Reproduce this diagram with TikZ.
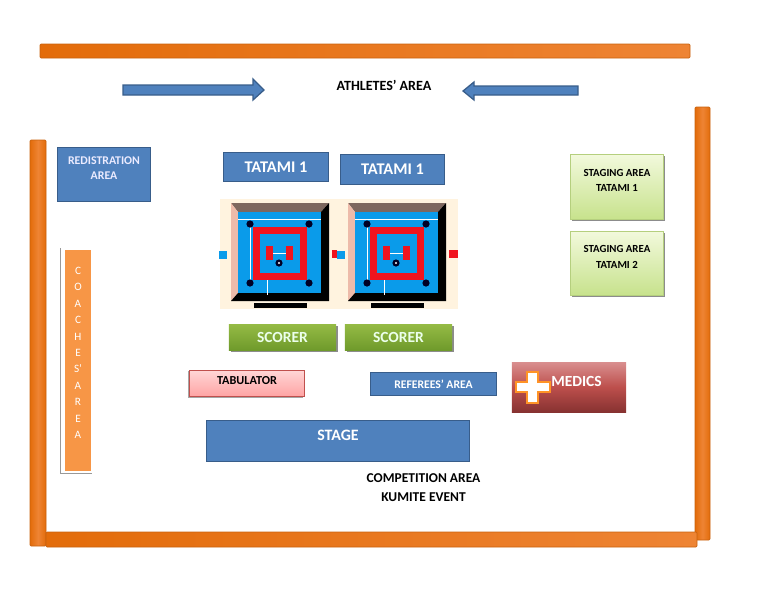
\documentclass[tikz,border=0pt]{standalone}
\usepackage{fontspec}
\setmainfont{Carlito}
\usetikzlibrary{shadows}
\definecolor{barorange}{HTML}{E36C0A}
\definecolor{barlight}{HTML}{EE8434}
\definecolor{bardark}{HTML}{C8620F}
\definecolor{boxblue}{HTML}{4F81BD}
\definecolor{boxedge}{HTML}{385D8A}
\definecolor{matblue}{HTML}{0A9BEA}
\definecolor{matred}{HTML}{F0141E}
\definecolor{scorertop}{HTML}{95BB45}
\definecolor{scorerlow}{HTML}{6F9A2B}
\definecolor{stagingtop}{HTML}{F2F9DC}
\definecolor{stagingedge}{HTML}{B5CF7E}
\definecolor{stagingdark}{HTML}{C7E28C}
\definecolor{medictop}{HTML}{D98F8F}
\definecolor{medicmid}{HTML}{BD4F4C}
\definecolor{medicdark}{HTML}{873231}
\definecolor{tabtop}{HTML}{FFD6D6}
\definecolor{tablow}{HTML}{FFA3A3}
\definecolor{tabedge}{HTML}{C0504D}
\definecolor{coachorange}{HTML}{F79646}
\definecolor{matcream}{HTML}{FFF3DF}
\definecolor{matgrey}{HTML}{7D675F}
\definecolor{matpink}{HTML}{EDBBAA}
\tikzset{
  bar/.style={draw=bardark, line width=0.5pt, rounded corners=0.8pt},
  areabox/.style={draw=boxedge, line width=0.9pt, fill=boxblue, inner sep=0pt, text=white},
  softshadow/.style={general shadow={fill=black!45, shadow xshift=1.2pt, shadow yshift=-1.2pt}},
  scorerbox/.style={inner sep=0pt, softshadow, top color=scorertop, bottom color=scorerlow, text=white!92!green, font=\fontsize{11}{12}\selectfont\bfseries},
  stagingbox/.style={draw=stagingedge, line width=0.8pt, inner sep=0pt, softshadow, top color=stagingtop, bottom color=stagingdark},
  boxtext/.style={align=center, inner sep=0pt, font=\fontsize{7.7}{11.2}\selectfont\bfseries},
  bararrow/.style={draw=boxedge, line width=0.9pt, fill=boxblue},
  mat/.pic={
    \fill [matgrey] (0,0) -- (98,0) -- (90,9) -- (7,9) -- cycle;
    \fill [matpink] (0,0) -- (7,9) -- (7,90) -- (0,98) -- cycle;
    \fill [black] (98,0) -- (98,98) -- (0,98) -- (7,90) -- (90,90) -- (90,9) -- cycle;
    \fill [matblue] (7,9) rectangle (90,90);
    \draw [white, line width=0.5pt] (7,16) -- (90,16);
    \fill [matred] (22,24) rectangle (76,77);
    \fill [matblue] (29,31) rectangle (69,70);
    \fill [matred] (35,43) rectangle (42,57);
    \fill [matred] (55,43) rectangle (62,57);
    \draw [white, line width=0.7pt] (19,21) -- (19,80);
    \draw [white, line width=0.7pt] (36,77) -- (36,92);
    \draw [white, line width=0.4pt] (42,50) -- (55,50);
    \foreach \cx/\cy in {19/21, 78/21, 19/80, 78/80} {
      \fill [black!85!blue] (\cx,\cy) circle [radius=3.6];
    }
    \fill [black!85!blue] (48,60) circle [radius=3.6];
    \fill [white] (48,60) circle [radius=1.2];
    \fill [black] (23,100) rectangle (76,105);
  }
}
\begin{document}
\begin{tikzpicture}[x=0.025cm, y=-0.025cm]
    \useasboundingbox (0,0) rectangle (768,594);

    \draw [bar, left color=barorange, right color=barlight] (40,44) rectangle (690,58);
    \draw [bar, left color=barorange, right color=barorange, middle color=barlight] (695,107) rectangle (710,540);
    \draw [bar, left color=barorange, right color=barorange, middle color=barlight] (30,140) rectangle (46,546);
    \draw [bar, left color=barorange, right color=barlight] (46,532) rectangle (697,547);

    \draw [bararrow] (123,85) -- (253,85) -- (253,79) -- (264,90) -- (253,100) -- (253,95) -- (123,95) -- cycle;
    \draw [bararrow] (578,86) -- (474,86) -- (474,82) -- (463,91) -- (474,100) -- (474,95) -- (578,95) -- cycle;
    \node [font=\fontsize{10}{12}\selectfont\bfseries] (athletes) at (384,85) {ATHLETES’ AREA};

    \node [areabox, minimum width=2.32cm, minimum height=1.35cm] (registration) at (104,174.5) {};
    \node [boxtext, text=white!92!blue, font=\fontsize{8.4}{11.2}\selectfont\bfseries] (registrationtext) at (104,168) {REDISTRATION\\AREA};

    \node [areabox, minimum width=2.62cm, minimum height=0.72cm, font=\fontsize{11.6}{13}\selectfont\bfseries] (tatamione) at (276,167) {TATAMI 1};
    \node [areabox, minimum width=2.6cm, minimum height=0.75cm, font=\fontsize{11.6}{13}\selectfont\bfseries] (tatamitwo) at (392.5,169.5) {TATAMI 1};

    \fill [matcream] (220,199) rectangle (458,309);
    \pic at (231,203) {mat};
    \pic at (348,203) {mat};
    \fill [matblue] (219,251) rectangle (227,259);
    \fill [matred] (332,250) rectangle (337,258);
    \fill [matblue] (337,251) rectangle (345,259);
    \fill [matred] (449,250) rectangle (458,258);

    \node [scorerbox, minimum width=2.675cm, minimum height=0.65cm] (scorerone) at (282.5,337) {SCORER};
    \node [scorerbox, minimum width=2.675cm, minimum height=0.65cm] (scorertwo) at (398.5,337) {SCORER};

    \node [stagingbox, minimum width=2.33cm, minimum height=1.63cm] (stagingone) at (617,187) {};
    \node [boxtext] (stagingonetext) at (617,180.5) {STAGING AREA\\TATAMI 1};
    \node [stagingbox, minimum width=2.33cm, minimum height=1.6cm] (stagingtwo) at (617,263.5) {};
    \node [boxtext] (stagingtwotext) at (617,257) {STAGING AREA\\TATAMI 2};

    \node [fill=white, inner sep=0pt, minimum width=0.8cm, minimum height=5.65cm, general shadow={fill=black!40, shadow xshift=-0.7pt, shadow yshift=-1pt}] (coachesframe) at (77,360) {};
    \node [fill=coachorange, inner sep=0pt, minimum width=0.65cm, minimum height=5.525cm] (coaches) at (78,360.5) {};
    \node [anchor=north, align=center, inner sep=0pt, text=white, font=\fontsize{8}{11.66}\selectfont] (coachestext) at (78,267) {C\\O\\A\\C\\H\\E\\S’\\A\\R\\E\\A};

    \node [draw=tabedge, line width=0.7pt, inner sep=0pt, top color=tabtop, bottom color=tablow, general shadow={fill=black!35, shadow xshift=-0.8pt, shadow yshift=-0.8pt}, minimum width=2.88cm, minimum height=0.66cm] (tabulator) at (247,383.5) {};
    \node [boxtext, font=\fontsize{8.7}{10}\selectfont\bfseries] (tabulatortext) at (247,381) {TABULATOR};

    \node [areabox, minimum width=3.15cm, minimum height=0.57cm, font=\fontsize{8.3}{10}\selectfont\bfseries] (referees) at (433.5,384) {REFEREES’ AREA};

    \node [inner sep=0pt, minimum width=2.85cm, minimum height=1.25cm, top color=medictop, bottom color=medicdark, middle color=medicmid] (medics) at (569,387) {};
    \draw [draw=orange!85!white, line width=1pt, fill=white] (527,372) -- (538,372) -- (538,382) -- (550,382) -- (550,392) -- (538,392) -- (538,403) -- (527,403) -- (527,392) -- (516,392) -- (516,382) -- (527,382) -- cycle;
    \node [boxtext, text=white, font=\fontsize{11}{12}\selectfont\bfseries] (medicstext) at (576.5,381) {MEDICS};

    \node [areabox, minimum width=6.57cm, minimum height=1.02cm] (stage) at (338,441) {};
    \node [boxtext, text=white, font=\fontsize{11.3}{13}\selectfont\bfseries] (stagetext) at (338,435) {STAGE};

    \node [align=center, inner sep=0pt, font=\fontsize{9.6}{13.5}\selectfont\bfseries] (competition) at (423.5,488) {COMPETITION AREA\\KUMITE EVENT};
  \end{tikzpicture}
\end{document}
